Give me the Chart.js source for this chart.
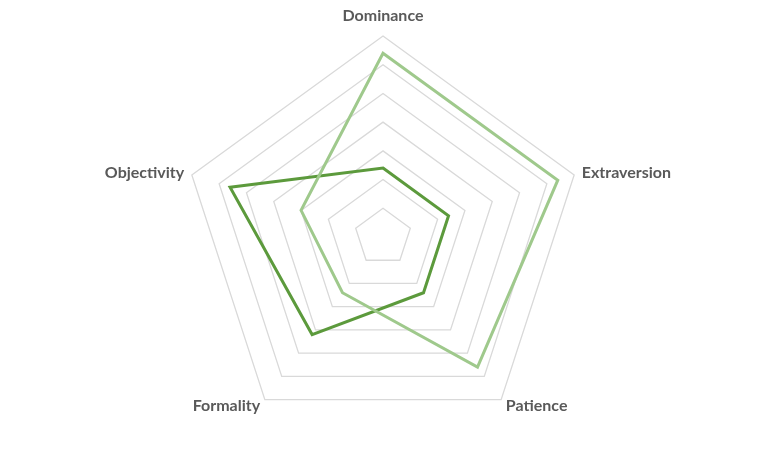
<!DOCTYPE html>
<html lang="en">
<head>
    <meta charset="UTF-8">
    <title>Personality Radar</title>
    <script src="https://cdn.jsdelivr.net/npm/chart.js@4.4.1/dist/chart.umd.min.js"></script>
    <style>
        html, body { margin: 0; padding: 0; background: #fff; }
        #wrap { width: 768px; height: 473px; }
    </style>
</head>
<body>
    <div id="wrap"><canvas id="radarChart"></canvas></div>

    <script>
        const traits = ['Dominance', 'Extraversion', 'Patience', 'Formality', 'Objectivity'];
        const profileLight = [32, 32, 28, 12, 15];
        const profileDark = [12, 12, 12, 21, 28];
        const scaleMax = 35;
        const scaleStep = 5;

        // Excel-style axis labels: centred on the spoke end instead of Chart.js' default anchoring
        const axisLabels = {
            id: 'axisLabels',
            afterDraw(chart) {
                const scale = chart.scales.r;
                const c = chart.ctx;
                c.save();
                c.fillStyle = '#595959';
                c.font = 'bold 16px Lato';
                traits.forEach((name, i) => {
                    const tip = scale.getPointPosition(i, scale.drawingArea);
                    const dx = tip.x - scale.xCenter;
                    if (Math.abs(dx) < 1) {
                        const p = scale.getPointPosition(i, scale.drawingArea + 12);
                        c.textAlign = 'center';
                        c.textBaseline = 'bottom';
                        c.fillText(name, p.x, p.y);
                    } else {
                        const p = scale.getPointPosition(i, scale.drawingArea + 8);
                        c.textAlign = dx > 0 ? 'left' : 'right';
                        c.textBaseline = 'middle';
                        c.fillText(name, p.x, p.y);
                    }
                });
                c.restore();
            }
        };

        const ctx = document.getElementById('radarChart').getContext('2d');

        new Chart(ctx, {
            type: 'radar',
            data: {
                labels: traits,
                datasets: [
                    {
                        label: 'Profile A',
                        data: profileLight,
                        borderColor: '#9fc98c',
                        backgroundColor: 'transparent',
                        borderWidth: 3,
                        pointRadius: 0,
                        fill: false
                    },
                    {
                        label: 'Profile B',
                        data: profileDark,
                        borderColor: '#5c9a3c',
                        backgroundColor: 'transparent',
                        borderWidth: 3,
                        pointRadius: 0,
                        fill: false
                    }
                ]
            },
            options: {
                responsive: true,
                maintainAspectRatio: false,
                animation: false,
                layout: { padding: { top: 36, bottom: 35, left: 0, right: 2 } },
                plugins: {
                    legend: { display: false },
                    tooltip: { enabled: false }
                },
                scales: {
                    r: {
                        min: 0,
                        max: scaleMax,
                        ticks: { stepSize: scaleStep, display: false },
                        grid: { color: '#d9d9d9', lineWidth: 1.3 },
                        angleLines: { display: false },
                        pointLabels: { display: false }
                    }
                }
            },
            plugins: [axisLabels]
        });
    </script>
</body>
</html>
